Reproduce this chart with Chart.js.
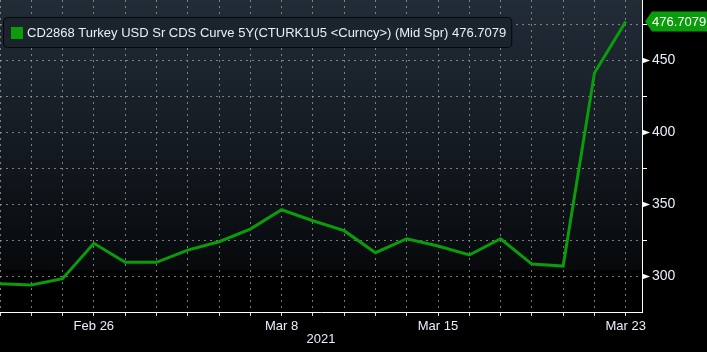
<!DOCTYPE html>
<html>
<head>
<meta charset="utf-8">
<script src="https://cdn.jsdelivr.net/npm/chart.js@4/dist/chart.umd.min.js"></script>
<style>
  html, body { margin: 0; padding: 0; background: #000; }
  canvas { display: block; }
</style>
</head>
<body>
<canvas id="cdsChart" width="707" height="352"></canvas>
<script>
// trading days, Feb 23 -> Mar 23 2021
const dates = ['Feb 23', 'Feb 24', 'Feb 25', 'Feb 26', 'Mar 1', 'Mar 2', 'Mar 3', 'Mar 4', 'Mar 5',
    'Mar 8', 'Mar 9', 'Mar 10', 'Mar 11', 'Mar 12', 'Mar 15', 'Mar 16', 'Mar 17', 'Mar 18', 'Mar 19',
    'Mar 22', 'Mar 23']
const cdsValues = [294.7, 293.7, 298.1, 322.7, 309.5, 309.5, 318.0, 323.8, 332.6,
    346.0, 338.4, 331.5, 316.2, 325.9, 320.8, 314.6, 325.9, 308.3, 306.9,
    441.0, 476.7079]
const labeledDates = ['Feb 26', 'Mar 8', 'Mar 15', 'Mar 23']
const yGridValues = [300, 325, 350, 375, 400, 425, 450, 475]
const yTickLabels = [300, 350, 400, 450]
const seriesName = 'CD2868 Turkey USD Sr CDS Curve 5Y(CTURK1U5 <Curncy>) (Mid Spr)'
const yearLabel = '2021'

const FONT = "'Liberation Sans', Arial, sans-serif"
const TEXT = '#e8eefa'
const GREEN = '#0a9c0a'
const lastValue = cdsValues[cdsValues.length - 1]

// drop the label overflow padding chart.js adds round the plot
const noPadding = (axis) => {
    axis.paddingTop = 0
    axis.paddingBottom = 0
    axis.paddingLeft = 0
    axis.paddingRight = 0
}

const backgroundPlugin = {
    id: 'bg',
    beforeDraw: (chart) => {
        const {ctx, chartArea} = chart
        ctx.save()
        ctx.fillStyle = '#000'
        ctx.fillRect(0, 0, chart.width, chart.height)
        const g = ctx.createLinearGradient(0, 0, 0, 270)
        g.addColorStop(0, '#222c37')
        g.addColorStop(0.55, '#141a21')
        g.addColorStop(1, '#07090c')
        ctx.fillStyle = g
        ctx.fillRect(chartArea.left, 0, chartArea.right - chartArea.left, 270)
        ctx.restore()
    }
}

const overlayPlugin = {
    id: 'overlay',
    afterDraw: (chart) => {
        const {ctx, chartArea} = chart
        const yScale = chart.scales.y
        ctx.save()

        // right axis markers
        ctx.fillStyle = '#fff'
        ctx.strokeStyle = '#fff'
        ctx.lineWidth = 1
        yGridValues.forEach(v => {
            const y = Math.round(yScale.getPixelForValue(v)) + 0.5
            const x = chartArea.right
            if (yTickLabels.includes(v)) {
                ctx.beginPath()
                ctx.moveTo(x, y - 3)
                ctx.lineTo(x + 8, y)
                ctx.lineTo(x, y + 3)
                ctx.closePath()
                ctx.fill()
            } else {
                ctx.beginPath()
                ctx.moveTo(x, y)
                ctx.lineTo(x + 5, y)
                ctx.stroke()
            }
        })

        // last value tag
        const ty = yScale.getPixelForValue(lastValue)
        const tx = chartArea.right + 3
        ctx.fillStyle = GREEN
        ctx.beginPath()
        ctx.moveTo(tx, ty)
        ctx.lineTo(tx + 7, ty - 10)
        ctx.lineTo(chart.width, ty - 10)
        ctx.lineTo(chart.width, ty + 10)
        ctx.lineTo(tx + 7, ty + 10)
        ctx.closePath()
        ctx.fill()
        ctx.fillStyle = '#fff'
        ctx.font = '13px ' + FONT
        ctx.textBaseline = 'middle'
        ctx.fillText(lastValue.toFixed(4), tx + 7, ty + 1)

        // legend box
        const label = seriesName + ' ' + lastValue.toFixed(4)
        ctx.font = '13px ' + FONT
        const w = ctx.measureText(label).width
        ctx.fillStyle = '#1b232c'
        ctx.strokeStyle = '#05070a'
        ctx.beginPath()
        ctx.roundRect(3.5, 17.5, w + 29, 30, 4)
        ctx.fill()
        ctx.stroke()
        ctx.fillStyle = GREEN
        ctx.fillRect(11, 27, 12, 12)
        ctx.fillStyle = TEXT
        ctx.textBaseline = 'middle'
        ctx.fillText(label, 27, 33)

        ctx.restore()
    }
}

const ctx = document.getElementById('cdsChart').getContext('2d')
new Chart(ctx, {
    type: 'line',
    data: {
        datasets: [{
            label: seriesName,
            data: cdsValues.map((v, i) => ({x: i, y: v})),
            borderColor: GREEN,
            backgroundColor: GREEN,
            borderWidth: 3,
            pointRadius: 0,
            tension: 0
        }]
    },
    options: {
        responsive: false,
        animation: false,
        layout: {padding: 0},
        plugins: {
            legend: {display: false},
            tooltip: {enabled: false}
        },
        scales: {
            x: {
                type: 'linear',
                min: 0,
                max: 20.52,
                afterBuildTicks: (axis) => {
                    axis.ticks = dates.map((d, i) => ({value: i}))
                },
                afterFit: (axis) => {
                    axis.height = 40
                    noPadding(axis)
                },
                grid: {
                    color: 'rgba(150,150,150,0.8)',
                    tickColor: '#ddd',
                    tickLength: 4,
                    tickWidth: 1
                },
                border: {display: true, color: '#fff', width: 1, dash: [2, 4]},
                ticks: {
                    autoSkip: false,
                    maxRotation: 0,
                    padding: 3,
                    color: TEXT,
                    font: {family: FONT, size: 13},
                    callback: (val) => labeledDates.includes(dates[val]) ? dates[val] : ''
                },
                title: {
                    display: true,
                    text: yearLabel,
                    color: TEXT,
                    font: {family: FONT, size: 13},
                    padding: {top: 0, bottom: 5}
                }
            },
            y: {
                position: 'right',
                min: 275,
                max: 491.7,
                afterBuildTicks: (axis) => {
                    axis.ticks = yGridValues.map(v => ({value: v}))
                },
                afterFit: (axis) => {
                    axis.width = 65
                    noPadding(axis)
                },
                grid: {
                    color: 'rgba(150,150,150,0.8)',
                    drawTicks: false
                },
                border: {display: true, color: '#fff', width: 1, dash: [2, 4]},
                ticks: {
                    padding: 10,
                    color: TEXT,
                    font: {family: FONT, size: 14},
                    callback: (val) => yTickLabels.includes(val) ? String(val) : ''
                }
            }
        }
    },
    plugins: [backgroundPlugin, overlayPlugin]
})
</script>
</body>
</html>
